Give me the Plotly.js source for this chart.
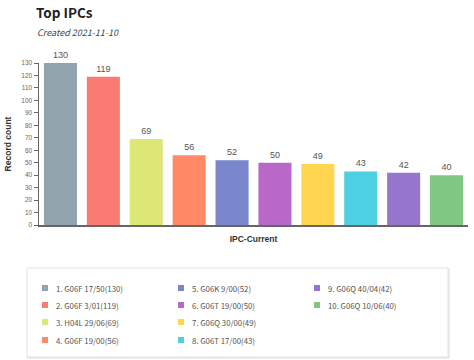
<!DOCTYPE html>
<html>
<head>
<meta charset="utf-8">
<script src="https://cdn.plot.ly/plotly-3.0.1.min.js"></script>
<style>
html,body{margin:0;padding:0;background:#fff;}
#chart{width:474px;height:360px;}
</style>
</head>
<body>
<div id="chart"></div>
<script>
// ---- data ----
const categories = ["G06F 17/50","G06F 3/01","H04L 29/06","G06F 19/00","G06K 9/00","G06T 19/00","G06Q 30/00","G06T 17/00","G06Q 40/04","G06Q 10/06"];
const counts = [130,119,69,56,52,50,49,43,42,40];
const colors = ["#90a4ae","#f97b72","#dce775","#ff8a65","#7986cb","#ba68c8","#ffd54f","#4dd0e1","#9575cd","#81c784"];
const legendLabels = categories.map((c,i)=> (i+1)+". "+c+"("+counts[i]+")");
const yTicks = [0,10,20,30,40,50,60,70,80,90,100,110,120,130];

// ---- layout geometry (pixels) ----
const W=474,H=360, L=39, R=6, T=63, B=135;
const pw=W-L-R, ph=H-T-B;
const px = x => (x-L)/pw;
const py = y => (H-B-y)/ph;
const cjk = 'Noto Sans CJK SC, Noto Sans, sans-serif';

const trace = {
  type:'bar',
  x: categories,
  y: counts,
  marker:{color:colors},
  text: counts.map(String),
  textposition:'outside',
  cliponaxis:false,
  textfont:{family:'Liberation Sans, Arial, sans-serif',size:9,color:'#555'},
  hoverinfo:'x+y',
  showlegend:false
};

const shapes = [{
  type:'rect', xref:'paper', yref:'paper',
  x0:px(28), x1:px(449), y0:py(269), y1:py(358),
  line:{color:'#ececec',width:2}, fillcolor:'rgba(0,0,0,0)', layer:'below'
},{
  type:'rect', xref:'paper', yref:'paper',
  x0:px(27), x1:px(448), y0:py(268), y1:py(357),
  line:{color:'#e2e2e2',width:1}, fillcolor:'#fff', layer:'below'
}];
const annotations = [
  {text:'<b>Top IPCs</b>', xref:'paper', yref:'paper', x:px(34), y:py(12), xanchor:'left', yanchor:'middle', showarrow:false,
   font:{family:cjk, size:13.5, color:'#222'}},
  {text:'<i>Created 2021-11-10</i>', xref:'paper', yref:'paper', x:px(35), y:py(32), xanchor:'left', yanchor:'middle', showarrow:false,
   font:{family:cjk, size:9, color:'#444'}}
];
const colX = [45,181,317];
const rowY = [288,305,322,340];
legendLabels.forEach((lab,i)=>{
  const col = Math.floor(i/4), row = i%4;
  const cx = colX[col], cy = rowY[row];
  shapes.push({type:'rect', xref:'paper', yref:'paper', xsizemode:'pixel', ysizemode:'pixel',
    xanchor:px(cx), yanchor:py(cy), x0:-3, x1:3, y0:-3, y1:3, line:{width:0}, fillcolor:colors[i]});
  annotations.push({text:lab, xref:'paper', yref:'paper', x:px(cx+9), y:py(cy), xanchor:'left', yanchor:'middle',
    showarrow:false, font:{family:cjk, size:7.8, color:'#555'}});
});

const layout = {
  width:W, height:H,
  margin:{l:L,r:R,t:T,b:B,pad:0},
  paper_bgcolor:'#fff', plot_bgcolor:'#fff',
  bargap:0.23,
  showlegend:false,
  xaxis:{
    showticklabels:false, ticks:'', showgrid:false, zeroline:false,
    showline:true, linecolor:'#666', linewidth:1.5,
    title:{text:'<b>IPC-Current</b>', standoff:10, font:{family:'Liberation Sans, Arial, sans-serif', size:8.5, color:'#333'}}
  },
  yaxis:{
    range:[0,130], tickvals:yTicks, ticks:'outside', ticklen:4, tickcolor:'#666', tickwidth:1,
    showgrid:false, zeroline:false, showline:true, linecolor:'#666', linewidth:1.5,
    tickfont:{family:'Liberation Sans, Arial, sans-serif', size:6.5, color:'#666'},
    title:{text:'<b>Record count</b>', standoff:8, font:{family:'Liberation Sans, Arial, sans-serif', size:8.5, color:'#333'}}
  },
  shapes:shapes,
  annotations:annotations
};

Plotly.newPlot('chart',[trace],layout,{displayModeBar:false,staticPlot:true});
</script>
</body>
</html>
